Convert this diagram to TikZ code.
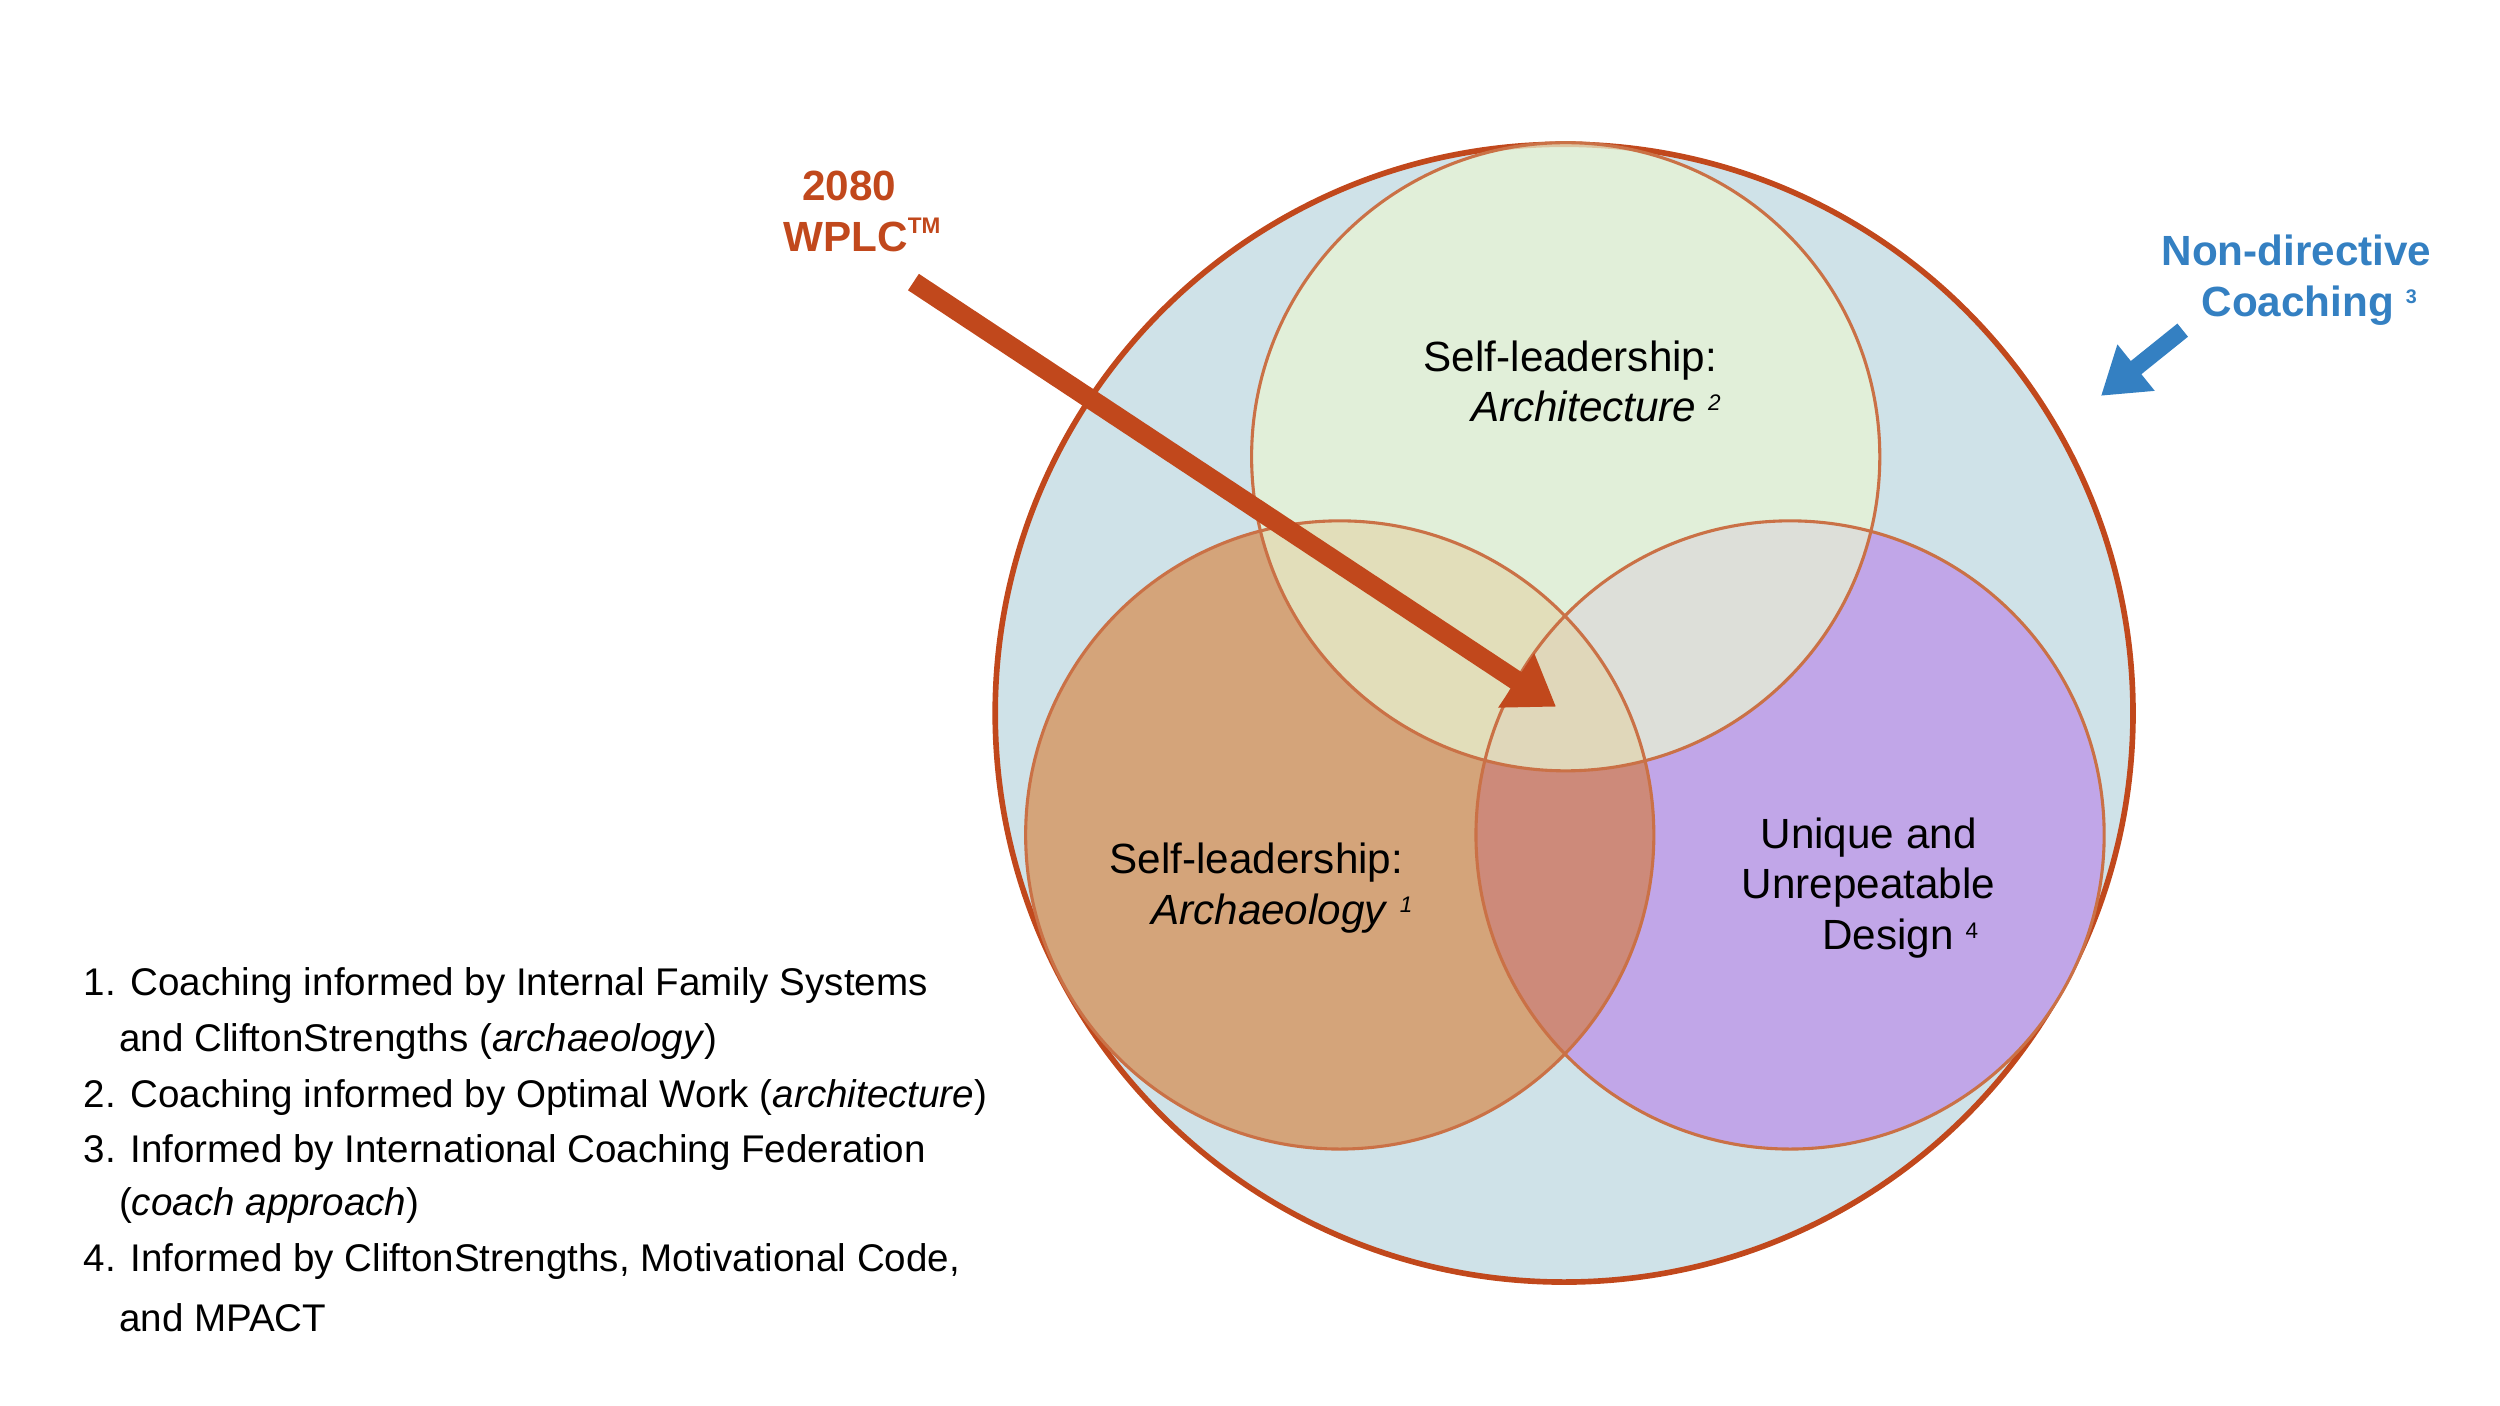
\documentclass[tikz,border=0pt]{standalone}
\usepackage{fontspec}
\setmainfont{Liberation Sans}
\usetikzlibrary{arrows.meta}
\definecolor{ring}{RGB}{193,72,28}
\definecolor{skyb}{RGB}{207,226,232}
\definecolor{archg}{RGB}{232,245,212}
\definecolor{archb}{RGB}{212,164,122}
\definecolor{uniqp}{RGB}{193,166,232}
\definecolor{mixlr}{RGB}{205,138,122}
\definecolor{ncblue}{RGB}{52,128,194}
\tikzset{venn/.style={draw=ring!55!archb, line width=1.1pt},
 lbl/.style={font=\fontsize{15pt}{18pt}\selectfont, align=center},
 note/.style={font=\fontsize{13.7pt}{17.5pt}\selectfont, anchor=west, inner sep=0pt}}
\begin{document}
\begin{tikzpicture}[x=0.02cm,y=-0.02cm]
\useasboundingbox (0,0) rectangle (1560,877);
\node[draw=ring, line width=2pt, fill=skyb, circle, minimum size=710*0.02cm] (big) at (976,445) {};
\fill[archb] (836,521) circle (196);
\fill[uniqp] (1117,521) circle (196);
\begin{scope}
\clip (836,521) circle (196);
\fill[mixlr] (1117,521) circle (196);
\end{scope}
\fill[archg, fill opacity=0.72] (977,285) circle (196);
\draw[venn] (836,521) circle (196);
\draw[venn] (1117,521) circle (196);
\draw[venn] (977,285) circle (196);
\node[lbl] (arch) at (980,238) {Self-leadership:\\\hspace*{1.2em}\textit{Architecture} \raisebox{0.5ex}{\footnotesize\textit{2}}};
\node[lbl] (arco) at (784,554) {Self-leadership:\\\hspace*{1.2em}\textit{Archaeology} \raisebox{0.5ex}{\footnotesize\textit{1}}};
\node[lbl] (uniq) at (1166,554) {Unique and\\Unrepeatable\\\hspace*{1.5em}Design \raisebox{0.5ex}{\footnotesize 4}};
\node[font=\bfseries\fontsize{15pt}{18pt}\selectfont, text=ring, align=center] (wplc) at (530,132) {2080\\\hspace*{0.6em}WPLC\raisebox{0.8ex}{\footnotesize TM}};
\coordinate (ws) at (570,176);
\coordinate (we) at (971,441);
\draw[ring, line width=7pt, -{Triangle[length=17pt,width=22pt]}] (ws) -- (we);
\node[font=\bfseries\fontsize{15pt}{18pt}\selectfont, text=ncblue, align=center] (nd) at (1433,175) {Non-directive\\\hspace*{0.6em}Coaching \raisebox{0.6ex}{\scriptsize 3}};
\coordinate (bs) at (1362,206);
\coordinate (be) at (1311,247);
\draw[ncblue, line width=6pt, -{Triangle[length=16pt,width=20pt]}] (bs) -- (be);
\node[note] (n1) at (52,615) {1. Coaching informed by Internal Family Systems};
\node[note] (n1b) at (74,650) {and CliftonStrengths (\textit{archaeology})};
\node[note] (n2) at (52,685) {2. Coaching informed by Optimal Work (\textit{architecture})};
\node[note] (n3) at (52,719) {3. Informed by International Coaching Federation};
\node[note] (n3b) at (74,752) {(\textit{coach approach})};
\node[note] (n4) at (52,787) {4. Informed by CliftonStrengths, Motivational Code,};
\node[note] (n4b) at (74,822) {and MPACT};
\end{tikzpicture}
\end{document}
